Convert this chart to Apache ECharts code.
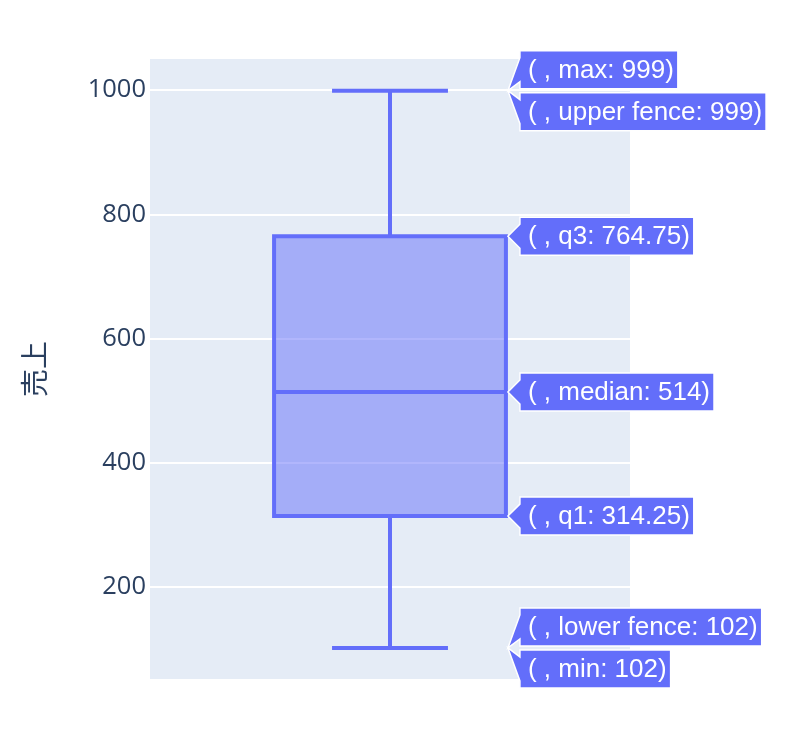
<!DOCTYPE html>
<html><head><meta charset="utf-8">
<script src="https://cdn.jsdelivr.net/npm/echarts@6/dist/echarts.min.js"></script>
<style>html,body{margin:0;padding:0;background:#fff}#c{width:788px;height:744px}</style>
</head><body><div id="c"></div>
<script>
// ---- data ----
const categories = [''];
const boxStatNames = ['lower fence', 'q1', 'median', 'q3', 'upper fence'];
const boxStatValues = [102, 314.25, 514, 764.75, 999];
const hoverNames = ['max', 'upper fence', 'q3', 'median', 'q1', 'lower fence', 'min'];
const hoverValues = [999, 999, 764.75, 514, 314.25, 102, 102];
const yTitle = '売上';
const yRange = [50.35, 1051.65];

// ---- style ----
const boxColor = '#636efa';
const boxFill = 'rgba(99,110,250,0.5)';
const fontColor = '#2a3f5f';
const boxFrac = 0.483;
const lw = 4;
const hoverFont = '26px "Liberation Sans", Arial, sans-serif';
const labelH = 38, arrow = 12;

const mctx = document.createElement('canvas').getContext('2d');
mctx.font = hoverFont;
const hoverTexts = hoverNames.map((n, i) => '( ' + categories[0] + ', ' + n + ': ' + hoverValues[i] + ')');
// stack labels sharing the same value
const offsets = hoverValues.map((v, i) => {
  const same = hoverValues.map((u, j) => u === v ? j : -1).filter(j => j >= 0);
  if (same.length < 2) return 0;
  const k = same.indexOf(i);
  return (k - (same.length - 1) / 2) * (labelH + 4);
});

const chart = echarts.init(document.getElementById('c'), null, {renderer: 'canvas'});
chart.setOption({
  animation: false,
  backgroundColor: '#fff',
  grid: {left: 150, right: 158, top: 58, bottom: 64, show: true, backgroundColor: '#e5ecf6', borderWidth: 0},
  xAxis: {type: 'category', data: categories, axisLine: {show: false}, axisTick: {show: false}, axisLabel: {show: false}, splitLine: {show: false}},
  yAxis: {
    type: 'value', min: yRange[0], max: yRange[1], splitNumber: 5,
    name: yTitle, nameLocation: 'middle', nameRotate: 90, nameGap: 102,
    nameTextStyle: {color: fontColor, fontSize: 28, fontFamily: '"Noto Sans CJK JP", sans-serif'},
    axisLine: {show: false}, axisTick: {show: false},
    axisLabel: {color: fontColor, fontSize: 25.5, fontFamily: '"Open Sans", sans-serif', margin: 4, showMinLabel: false, showMaxLabel: false,
      formatter: v => String(v)},
    splitLine: {lineStyle: {color: '#ffffff', width: 2}}
  },
  series: [
    {
      type: 'custom', clip: false,
      data: [[0].concat(boxStatValues)],
      encode: {x: 0, y: [1, 2, 3, 4, 5]},
      renderItem: function (params, api) {
        const x = api.value(0);
        const lo = api.coord([x, api.value(1)]);
        const q1 = api.coord([x, api.value(2)]);
        const md = api.coord([x, api.value(3)]);
        const q3 = api.coord([x, api.value(4)]);
        const hi = api.coord([x, api.value(5)]);
        const cx = lo[0];
        const bw = api.size([1, 0])[0] * boxFrac;
        const cap = bw / 2;
        const ls = {stroke: boxColor, lineWidth: lw};
        return {type: 'group', children: [
          {type: 'line', shape: {x1: cx, y1: hi[1], x2: cx, y2: q3[1]}, style: ls},
          {type: 'line', shape: {x1: cx, y1: q1[1], x2: cx, y2: lo[1]}, style: ls},
          {type: 'line', shape: {x1: cx - cap / 2, y1: hi[1], x2: cx + cap / 2, y2: hi[1]}, style: ls},
          {type: 'line', shape: {x1: cx - cap / 2, y1: lo[1], x2: cx + cap / 2, y2: lo[1]}, style: ls},
          {type: 'rect', shape: {x: cx - bw / 2, y: q3[1], width: bw, height: q1[1] - q3[1]}, style: {fill: boxFill, stroke: boxColor, lineWidth: lw}},
          {type: 'line', shape: {x1: cx - bw / 2, y1: md[1], x2: cx + bw / 2, y2: md[1]}, style: ls}
        ]};
      }
    },
    {
      type: 'custom', clip: false, z: 10,
      data: hoverValues.map((v, i) => [0, v, i]),
      encode: {x: 0, y: 1},
      renderItem: function (params, api) {
        const i = api.value(2);
        const p = api.coord([api.value(0), api.value(1)]);
        const bw = api.size([1, 0])[0] * boxFrac;
        const tx = p[0] + bw / 2 + lw / 2;
        const ty = p[1];
        const off = offsets[i];
        const w = mctx.measureText(hoverTexts[i]).width + 12;
        const a = arrow, h = labelH;
        const pts = [[0, 0], [a, off + a], [a, off + h / 2], [a + w, off + h / 2], [a + w, off - h / 2], [a, off - h / 2], [a, off - a]]
          .map(q => [tx + q[0], ty + q[1]]);
        return {type: 'group', children: [
          {type: 'polygon', shape: {points: pts}, style: {fill: boxColor, stroke: '#ffffff', lineWidth: 1.5}},
          {type: 'text', style: {x: tx + a + 8, y: ty + off + 1, text: hoverTexts[i], fill: '#ffffff', font: hoverFont, align: 'left', verticalAlign: 'middle'}}
        ]};
      }
    }
  ]
});
</script></body></html>
